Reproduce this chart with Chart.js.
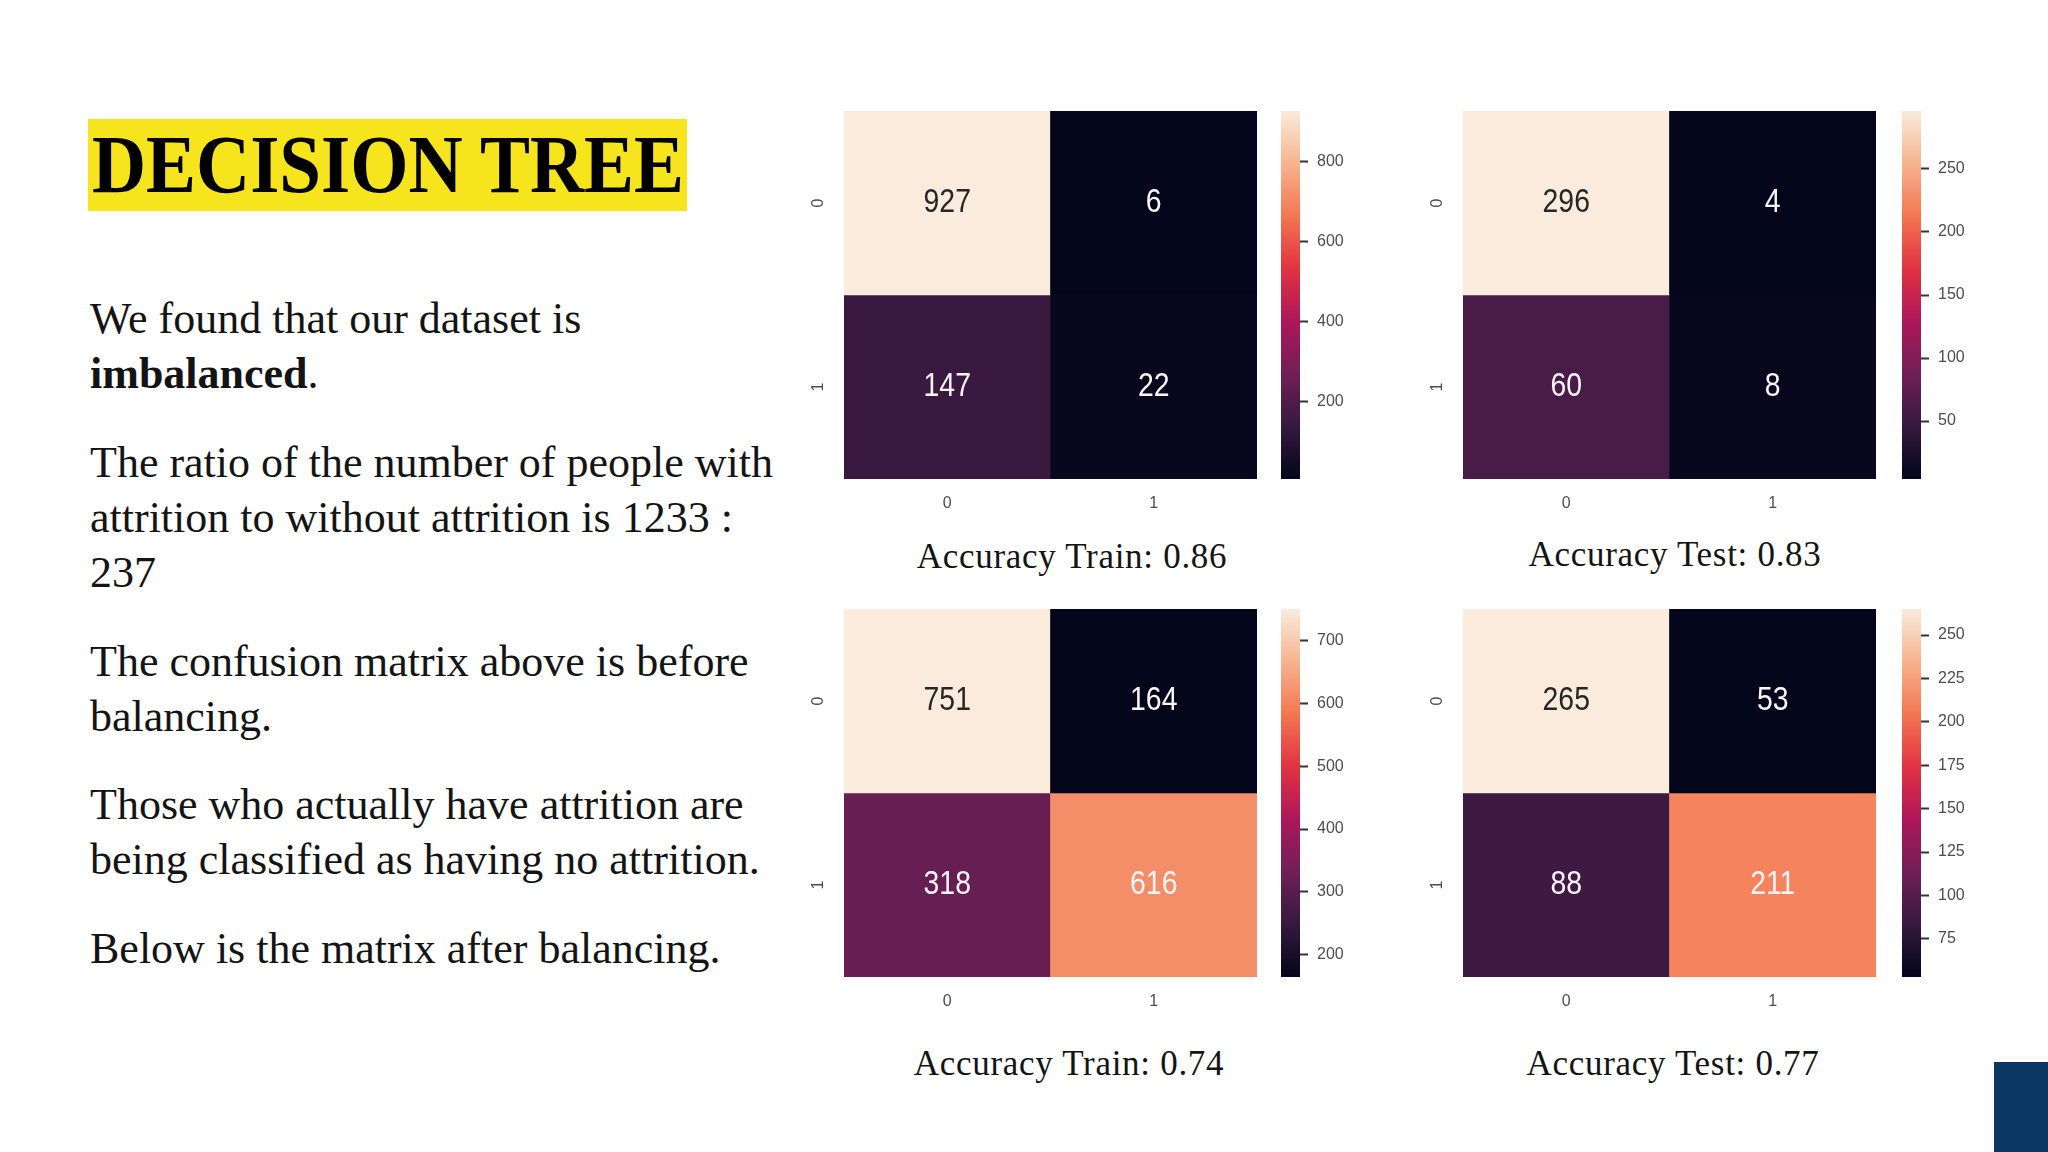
<!DOCTYPE html>
<html>
<head>
<meta charset="utf-8">
<title>Decision Tree</title>
<script src="https://cdn.jsdelivr.net/npm/chart.js@4.4.0/dist/chart.umd.min.js"></script>
<style>
  html, body { margin: 0; padding: 0; background: #fff; }
  #page { position: relative; width: 2048px; height: 1152px; overflow: hidden; background: #fff; }
  canvas, .abs { position: absolute; }
  .title-bg { left: 88px; top: 119px; width: 599px; height: 92px; background: #f6e51d; }
  .title { left: 92px; top: 124px; font-family: "Liberation Serif", serif; font-weight: bold; font-size: 82px;
           line-height: 82px; color: #000; white-space: nowrap; transform-origin: 0 0; }
  .para { left: 90px; font-family: "Liberation Serif", serif; font-size: 44px; line-height: 55px;
          color: #141414; white-space: nowrap; }
  .caption { font-family: "Liberation Serif", serif; font-size: 35px; line-height: 35px; letter-spacing: 0.7px;
             color: #141414; white-space: nowrap; transform: translateX(-50%); }
  .corner { left: 1994px; top: 1062px; width: 54px; height: 90px; background: #0b3765; }
</style>
</head>
<body>
<div id="page">
  <div class="abs title-bg"></div>
  <div class="abs title" id="title">DECISION TREE</div>

  <div class="abs para" style="top:291px">We found that our dataset is<br><b>imbalanced</b>.</div>
  <div class="abs para" style="top:435px">The ratio of the number of people with<br>attrition to without attrition is 1233 :<br>237</div>
  <div class="abs para" style="top:634px">The confusion matrix above is before<br>balancing.</div>
  <div class="abs para" style="top:777px">Those who actually have attrition are<br>being classified as having no attrition.</div>
  <div class="abs para" style="top:921px">Below is the matrix after balancing.</div>

  <canvas id="hm1" width="473" height="428" style="left:784px;top:101px"></canvas>
  <canvas id="cb1" width="89" height="388" style="left:1281px;top:101px"></canvas>
  <canvas id="hm2" width="473" height="428" style="left:1403px;top:101px"></canvas>
  <canvas id="cb2" width="89" height="388" style="left:1902px;top:101px"></canvas>
  <canvas id="hm3" width="473" height="428" style="left:784px;top:599px"></canvas>
  <canvas id="cb3" width="89" height="388" style="left:1281px;top:599px"></canvas>
  <canvas id="hm4" width="473" height="428" style="left:1403px;top:599px"></canvas>
  <canvas id="cb4" width="89" height="388" style="left:1902px;top:599px"></canvas>

  <div class="abs caption" style="left:1072px;top:539px">Accuracy Train: 0.86</div>
  <div class="abs caption" style="left:1675px;top:537px">Accuracy Test: 0.83</div>
  <div class="abs caption" style="left:1069px;top:1046px">Accuracy Train: 0.74</div>
  <div class="abs caption" style="left:1673px;top:1046px">Accuracy Test: 0.77</div>

  <div class="abs corner"></div>
</div>

<script>
// --- DATA ---
const rowLabels = ['0', '1'];
const colLabels = ['0', '1'];

// confusion matrices, rows = actual, cols = predicted
const trainBefore = [[927, 6], [147, 22]];
const testBefore = [[296, 4], [60, 8]];
const trainAfter = [[751, 164], [318, 616]];
const testAfter = [[265, 53], [88, 211]];

// colorbar ticks
const trainBeforeTicks = [200, 400, 600, 800];
const testBeforeTicks = [50, 100, 150, 200, 250];
const trainAfterTicks = [200, 300, 400, 500, 600, 700];
const testAfterTicks = [75, 100, 125, 150, 175, 200, 225, 250];

// seaborn "rocket" colormap, sampled
const ROCKET = ['#03051a', '#35193e', '#701f57', '#ad1759', '#e13342', '#f37651', '#f6b48f', '#faebdd'];

const TICK_COLOR = '#4d4d4d';
const TICK_FONT = { family: '"Liberation Sans", Arial, sans-serif', size: 16 };

function hexToRgb(h) {
    return [1, 3, 5].map(i => parseInt(h.substr(i, 2), 16));
}

function rocket(t) {
    t = Math.max(0, Math.min(1, t));
    const pos = t * (ROCKET.length - 1);
    const i = Math.min(Math.floor(pos), ROCKET.length - 2);
    const f = pos - i;
    const a = hexToRgb(ROCKET[i]), b = hexToRgb(ROCKET[i + 1]);
    const c = a.map((v, k) => Math.round(v + (b[k] - v) * f));
    return `rgb(${c[0]}, ${c[1]}, ${c[2]})`;
}

// same rule seaborn uses to pick annotation colour
function textColorFor(rgbStr) {
    const c = rgbStr.match(/\d+/g).map(Number).map(v => {
        v /= 255;
        return v <= 0.03928 ? v / 12.92 : Math.pow((v + 0.055) / 1.055, 2.4);
    });
    const lum = 0.2126 * c[0] + 0.7152 * c[1] + 0.0722 * c[2];
    return lum > 0.408 ? '#262626' : '#fbf4f8';
}

// fixed axis sizes so the plot area lands where it should
function fixSize(prop, size) {
    return s => {
        s[prop] = size;
        s.paddingTop = 0; s.paddingBottom = 0; s.paddingLeft = 0; s.paddingRight = 0;
    };
}

/**
 * Writes the count in the middle of every cell.
 */
const cellText = {
    id: 'cellText',
    afterDatasetsDraw(chart) {
        const ctx = chart.ctx;
        chart.data.datasets.forEach((ds, di) => {
            chart.getDatasetMeta(di).data.forEach((bar, ci) => {
                const cx = bar.x;
                const cy = (bar.y + bar.base) / 2;
                ctx.save();
                ctx.translate(cx, cy);
                ctx.scale(0.86, 1);
                ctx.font = '33px "Liberation Sans", Arial, sans-serif';
                ctx.textAlign = 'center';
                ctx.textBaseline = 'middle';
                ctx.fillStyle = textColorFor(ds.backgroundColor[ci]);
                ctx.fillText(String(ds.values[ci]), 0, 0);
                ctx.restore();
            });
        });
    }
};

function drawHeatmap(id, matrix) {
    const flat = matrix.flat();
    const vmin = Math.min(...flat);
    const vmax = Math.max(...flat);

    const datasets = matrix.map((row, r) => ({
        data: row.map(() => [r, r + 1]),
        values: row,
        backgroundColor: row.map(v => rocket((v - vmin) / (vmax - vmin))),
        borderWidth: 0,
        barPercentage: 1,
        categoryPercentage: 1,
        grouped: false
    }));

    new Chart(document.getElementById(id), {
        type: 'bar',
        data: { labels: colLabels, datasets: datasets },
        options: {
            responsive: false,
            animation: false,
            layout: { padding: { top: 10, right: 0, bottom: 0, left: 0 } },
            plugins: { legend: { display: false }, tooltip: { enabled: false } },
            scales: {
                x: {
                    grid: { display: false, drawTicks: false },
                    border: { display: false },
                    ticks: { color: TICK_COLOR, font: TICK_FONT, padding: 15 },
                    afterFit: fixSize('height', 50)
                },
                y: {
                    min: 0, max: 2, reverse: true,
                    grid: { display: false, drawTicks: false },
                    border: { display: false },
                    afterBuildTicks: s => { s.ticks = rowLabels.map((_, i) => ({ value: i + 0.5 })); },
                    ticks: {
                        callback: (v, i) => rowLabels[i],
                        minRotation: 90, maxRotation: 90,
                        crossAlign: 'center',
                        padding: 21,
                        color: TICK_COLOR, font: TICK_FONT
                    },
                    afterFit: fixSize('width', 60)
                }
            }
        },
        plugins: [cellText]
    });
}

function drawColorbar(id, matrix, ticks) {
    const flat = matrix.flat();
    const vmin = Math.min(...flat);
    const vmax = Math.max(...flat);

    new Chart(document.getElementById(id), {
        type: 'bar',
        data: {
            labels: [''],
            datasets: [{
                data: [[vmin, vmax]],
                backgroundColor: (c) => {
                    const chart = c.chart;
                    if (!chart.chartArea) return ROCKET[0];
                    const y = chart.scales.y;
                    const g = chart.ctx.createLinearGradient(0, y.getPixelForValue(vmin), 0, y.getPixelForValue(vmax));
                    ROCKET.forEach((col, i) => g.addColorStop(i / (ROCKET.length - 1), col));
                    return g;
                },
                borderWidth: 0,
                barPercentage: 1,
                categoryPercentage: 1
            }]
        },
        options: {
            responsive: false,
            animation: false,
            layout: { padding: { top: 10, bottom: 10, left: 0, right: 0 } },
            plugins: { legend: { display: false }, tooltip: { enabled: false } },
            scales: {
                x: { display: false },
                y: {
                    position: 'right',
                    min: vmin, max: vmax,
                    afterBuildTicks: s => { s.ticks = ticks.map(v => ({ value: v })); },
                    grid: { drawOnChartArea: false, drawTicks: true, tickLength: 8, tickWidth: 2, tickColor: '#333333' },
                    border: { display: false },
                    ticks: { padding: 9, color: TICK_COLOR, font: TICK_FONT },
                    afterFit: fixSize('width', 70)
                }
            }
        }
    });
}

function fitTitle() {
    const el = document.getElementById('title');
    const w = el.getBoundingClientRect().width;
    el.style.transform = `scaleX(${592 / w})`;
}

document.addEventListener('DOMContentLoaded', () => {
    fitTitle();
    drawHeatmap('hm1', trainBefore);
    drawColorbar('cb1', trainBefore, trainBeforeTicks);
    drawHeatmap('hm2', testBefore);
    drawColorbar('cb2', testBefore, testBeforeTicks);
    drawHeatmap('hm3', trainAfter);
    drawColorbar('cb3', trainAfter, trainAfterTicks);
    drawHeatmap('hm4', testAfter);
    drawColorbar('cb4', testAfter, testAfterTicks);
});
</script>
</body>
</html>
